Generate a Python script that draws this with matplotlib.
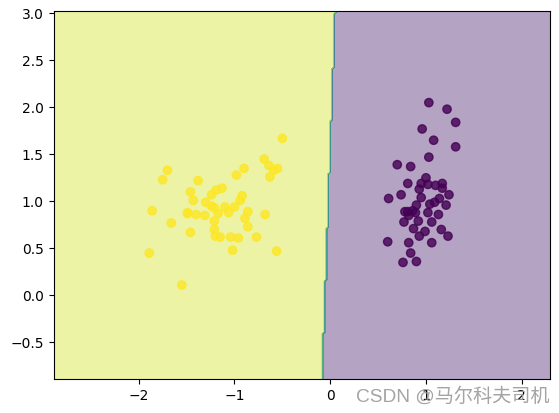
import numpy as np
import matplotlib
matplotlib.use("Agg")
import matplotlib.pyplot as plt

plt.rcParams['font.family'] = ['DejaVu Sans', 'Noto Sans CJK SC']

# class 1 (yellow) points
yellow_x = [-0.50, -0.69, -0.64, -0.55, -0.59, -0.63, -0.90, -0.98, -1.70, -1.75,
            -1.38, -1.46, -1.43, -1.24, -1.19, -1.13, -1.30, -1.24, -1.21, -1.10,
            -1.17, -1.06, -1.00, -0.92, -0.94, -0.86, -0.89, -0.86, -0.68, -0.77,
            -0.56, -1.02, -0.96, -1.04, -1.15, -1.20, -1.21, -1.21, -1.31, -1.40,
            -1.49, -1.49, -1.86, -1.66, -1.46, -1.89, -1.55]
yellow_y = [1.67, 1.45, 1.38, 1.35, 1.33, 1.26, 1.35, 1.28, 1.33, 1.23,
            1.22, 1.10, 1.01, 1.07, 1.12, 1.14, 0.99, 0.95, 0.93, 0.94,
            0.87, 0.88, 0.94, 1.06, 1.01, 0.89, 0.82, 0.73, 0.86, 0.62,
            0.47, 0.48, 0.61, 0.62, 0.62, 0.63, 0.70, 0.79, 0.85, 0.86,
            0.87, 0.88, 0.90, 0.77, 0.67, 0.45, 0.11]

# class 0 (purple) points
purple_x = [1.03, 1.22, 1.31, 0.96, 1.08, 1.31, 1.03, 0.70, 0.84, 1.00,
            0.81, 0.95, 1.02, 1.10, 1.17, 1.17, 0.93, 0.61, 0.74, 0.95,
            1.24, 1.14, 1.09, 1.04, 1.21, 0.90, 0.81, 0.86, 0.89, 0.82,
            1.02, 1.13, 0.92, 0.77, 1.06, 0.87, 0.99, 1.16, 1.23, 0.93,
            0.60, 0.82, 1.06, 0.84, 0.76, 0.90, 0.78]
purple_y = [2.05, 1.98, 1.84, 1.77, 1.65, 1.58, 1.47, 1.39, 1.37, 1.25,
            1.19, 1.19, 1.18, 1.17, 1.19, 1.14, 1.13, 1.03, 1.07, 1.04,
            1.07, 1.03, 0.99, 0.97, 0.96, 0.96, 0.89, 0.90, 0.88, 0.85,
            0.88, 0.86, 0.79, 0.78, 0.78, 0.71, 0.68, 0.70, 0.63, 0.63,
            0.57, 0.56, 0.56, 0.45, 0.35, 0.36, 0.89]

# linear model: class 0 where w.x + b > 0
weights = [1.0, -0.0353]
bias = 0.0556
step = 0.02

X = np.column_stack([np.r_[yellow_x, purple_x], np.r_[yellow_y, purple_y]])
labels = np.r_[np.ones(len(yellow_x)), np.zeros(len(purple_x))]

x_min, x_max = X[:, 0].min() - 1, X[:, 0].max() + 1
y_min, y_max = X[:, 1].min() - 1, X[:, 1].max() + 1
xx, yy = np.meshgrid(np.arange(x_min, x_max, step), np.arange(y_min, y_max, step))
score = weights[0] * xx + weights[1] * yy + bias
Z = np.where(score > 0, 0, 1)

fig = plt.figure(figsize=(5.59, 4.13), dpi=100)
ax = fig.add_axes([53.5 / 559, (413 - 379) / 413, 496 / 559, 368.5 / 413])
ax.contourf(xx, yy, Z, alpha=0.4, cmap='viridis')
ax.scatter(X[:, 0], X[:, 1], c=labels, cmap='viridis', alpha=0.8)

fig.text(0.983, 0.041, "CSDN @马尔科夫司机", ha='right', va='center',
         fontsize=13.8, color='#9a9a9a', alpha=0.9,
         family=['Liberation Sans', 'Noto Sans CJK SC'])

fig.savefig("out.png", dpi=100)
